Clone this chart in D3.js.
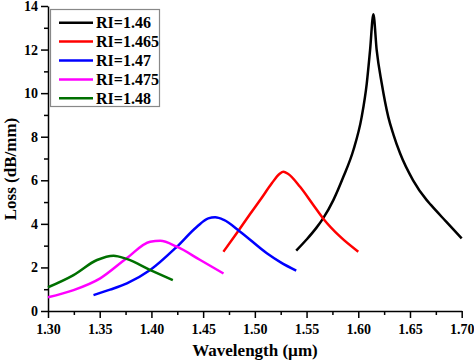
<!DOCTYPE html>
<html>
<head>
<meta charset="utf-8">
<script src="https://cdn.jsdelivr.net/npm/d3@7"></script>
<style>
  body { margin: 0; background: #fff; }
  text { font-family: "Liberation Serif", "Times New Roman", serif; font-weight: bold; }
</style>
</head>
<body>
<div id="chart"></div>
<script>
var svgWidth = 474;
var svgHeight = 364;

var margin = { top: 6, right: 12, bottom: 53, left: 48 };
var width = 461.7 - margin.left;
var height = 311 - margin.top;

// Series
var labels = ["RI=1.46", "RI=1.465", "RI=1.47", "RI=1.475", "RI=1.48"];
var colors = ["#000000", "#ff0000", "#0000ff", "#ff00ff", "#007000"];

var ri146X = [1.540, 1.550, 1.560, 1.566, 1.5759, 1.5856, 1.5953, 1.6033, 1.6082, 1.6114, 1.6146, 1.6178, 1.6227, 1.629, 1.634, 1.6403, 1.653, 1.666, 1.670, 1.685, 1.700];
var ri146Y = [2.77, 3.28, 3.85, 4.25, 5.09, 6.16, 7.39, 8.91, 10.44, 11.97, 13.62, 11.97, 10.44, 8.91, 8.1, 7.25, 6.0, 5.1, 4.88, 4.1, 3.33];

var ri1465X = [1.4696, 1.4826, 1.4954, 1.5060, 1.5164, 1.5240, 1.5276, 1.5320, 1.5437, 1.5560, 1.5660, 1.5825, 1.600];
var ri1465Y = [2.72, 3.58, 4.45, 5.15, 5.86, 6.3, 6.39, 6.3, 5.7, 4.9, 4.25, 3.41, 2.72];

var ri147X = [1.344, 1.360, 1.3763, 1.3988, 1.4246, 1.444, 1.455, 1.4616, 1.470, 1.4858, 1.5116, 1.525, 1.540];
var ri147Y = [0.73, 0.98, 1.27, 1.88, 2.95, 3.87, 4.25, 4.3, 4.18, 3.64, 2.65, 2.23, 1.85];

var ri1475X = [1.300, 1.3247, 1.3505, 1.376, 1.3988, 1.4085, 1.4246, 1.4472, 1.4697];
var ri1475Y = [0.63, 0.96, 1.5, 2.42, 3.18, 3.22, 2.95, 2.34, 1.72];

var ri148X = [1.300, 1.3247, 1.3474, 1.3634, 1.376, 1.399, 1.4207];
var ri148Y = [1.09, 1.65, 2.34, 2.54, 2.39, 1.88, 1.42];

var seriesX = [ri146X, ri1465X, ri147X, ri1475X, ri148X];
var seriesY = [ri146Y, ri1465Y, ri147Y, ri1475Y, ri148Y];

var xTicks = [1.30, 1.35, 1.40, 1.45, 1.50, 1.55, 1.60, 1.65, 1.70];
var yTicks = [0, 2, 4, 6, 8, 10, 12, 14];

var svg = d3.select("#chart")
  .append("svg")
  .attr("width", svgWidth)
  .attr("height", svgHeight);

var chartGroup = svg.append("g")
  .attr("transform", `translate(${margin.left}, ${margin.top})`);

var xScale = d3.scaleLinear().domain([1.30, 1.70]).range([0, width]);
var yScale = d3.scaleLinear().domain([0, 14]).range([height, 0]);

// Minor ticks
var xMinor = d3.range(1.325, 1.70, 0.05);
var yMinor = d3.range(1, 14, 2);

chartGroup.append("g")
  .attr("transform", `translate(0, ${height})`)
  .call(d3.axisBottom(xScale).tickValues(xMinor).tickSize(4).tickFormat(""))
  .call(g => g.select(".domain").remove())
  .selectAll("line").attr("stroke-width", 1.5);

chartGroup.append("g")
  .call(d3.axisLeft(yScale).tickValues(yMinor).tickSize(4).tickFormat(""))
  .call(g => g.select(".domain").remove())
  .selectAll("line").attr("stroke-width", 1.5);

// Major axes
var xAxis = chartGroup.append("g")
  .attr("transform", `translate(0, ${height})`)
  .call(d3.axisBottom(xScale).tickValues(xTicks).tickSize(7).tickSizeOuter(0).tickFormat(d3.format(".2f")));

var yAxis = chartGroup.append("g")
  .call(d3.axisLeft(yScale).tickValues(yTicks).tickSize(7).tickSizeOuter(0).tickFormat(d3.format("d")));

[xAxis, yAxis].forEach(function(ax) {
  ax.select(".domain").attr("stroke-width", 1.5);
  ax.selectAll("line").attr("stroke-width", 1.5);
  ax.selectAll("text")
    .attr("font-size", "14px")
    .attr("font-family", "Liberation Serif, serif")
    .attr("font-weight", "bold")
    .attr("fill", "#000");
});
xAxis.selectAll("text").attr("dy", "0.9em");

// Axis titles
svg.append("text")
  .attr("x", 255)
  .attr("y", 356)
  .attr("text-anchor", "middle")
  .attr("font-size", "17px")
  .text("Wavelength (\u00b5m)");

svg.append("text")
  .attr("transform", "rotate(-90)")
  .attr("x", -169)
  .attr("y", 16)
  .attr("text-anchor", "middle")
  .attr("font-size", "17px")
  .text("Loss (dB/mm)");

// Curves
var line = d3.line()
  .x(d => xScale(d[0]))
  .y(d => yScale(d[1]))
  .curve(d3.curveMonotoneX);

seriesX.forEach(function(xs, i) {
  var pts = xs.map((x, j) => [x, seriesY[i][j]]);
  chartGroup.append("path")
    .datum(pts)
    .attr("fill", "none")
    .attr("stroke", colors[i])
    .attr("stroke-width", 2.5)
    .attr("d", line);
});

// Legend
var legend = svg.append("g");
legend.append("rect")
  .attr("x", 50.5)
  .attr("y", 9.5)
  .attr("width", 109)
  .attr("height", 97)
  .attr("fill", "#fff")
  .attr("stroke", "#888")
  .attr("stroke-width", 1.2);

labels.forEach(function(lab, i) {
  var yy = 22.7 + i * 18.9;
  legend.append("line")
    .attr("x1", 59).attr("x2", 93)
    .attr("y1", yy).attr("y2", yy)
    .attr("stroke", colors[i])
    .attr("stroke-width", 2.5);
  legend.append("text")
    .attr("x", 96)
    .attr("y", yy + 5.5)
    .attr("font-size", "16px")
    .text(lab);
});
</script>
</body>
</html>
